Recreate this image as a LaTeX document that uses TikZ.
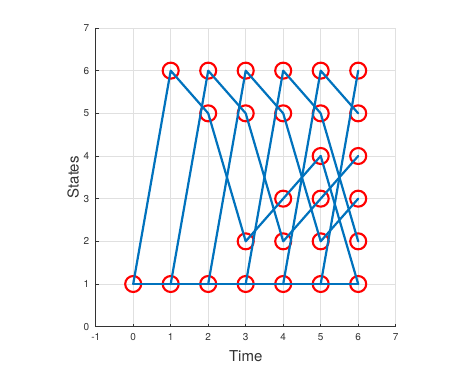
\documentclass[tikz,border=0pt]{standalone}
\usepackage{fontspec}
\setmainfont{TeX Gyre Heros}
\usepackage{tikz}
\usetikzlibrary{backgrounds}
\definecolor{lineblue}{RGB}{0,114,189}
\colorlet{gridgray}{black!12}
\colorlet{axisgray}{black!80}

\begin{document}
\begin{tikzpicture}[x=37.5pt,y=42.67pt,
	state/.style={circle,draw=red,line width=2.1pt,minimum size=16pt,inner sep=0pt},
	trace/.style={lineblue,line width=2.2pt,line join=round,line cap=round},
	ticklabel/.style={axisgray,font=\fontsize{10}{12}\selectfont}]
	\useasboundingbox (-3.552,-0.944) rectangle (9.088,7.656);
	% markers
	\foreach \t/\s in {0/1,1/1,2/1,3/1,4/1,5/1,6/1,1/6,2/6,3/6,4/6,5/6,6/6,2/5,3/5,4/5,5/5,6/5,
		5/4,6/4,4/3,5/3,6/3,3/2,4/2,5/2,6/2}
		\node[state] (c\t\s) at (\t,\s) {};
	\begin{scope}[on background layer]
		% grid and axes
		\foreach \i in {0,...,7}
			\draw[gridgray,line width=0.6pt] (\i,0) -- (\i,7);
		\foreach \j in {1,...,7}
			\draw[gridgray,line width=0.6pt] (-1,\j) -- (7,\j);
		\draw[axisgray,line width=0.8pt] (-1,7) -- (-1,0) -- (7,0);
		\foreach \i in {-1,...,7} {
			\draw[axisgray,line width=0.8pt] (\i,0) -- ++(0,3pt);
			\node[ticklabel] at (\i,0) [below=3pt] {\i};
		}
		\foreach \j in {0,...,7} {
			\draw[axisgray,line width=0.8pt] (-1,\j) -- ++(3pt,0);
			\node[ticklabel] at (-1,\j) [left=3pt] {\j};
		}
	\end{scope}
	% paths through the states
	\draw[trace] (c01.center) -- (c61.center);
	\draw[trace] (c01.center) -- (c16.center) -- (c25.center) -- (c32.center) -- (c43.center) -- (c54.center) -- (c61.center);
	\draw[trace] (c11.center) -- (c26.center) -- (c35.center) -- (c42.center) -- (c53.center) -- (c64.center);
	\draw[trace] (c21.center) -- (c36.center) -- (c45.center) -- (c52.center) -- (c63.center);
	\draw[trace] (c31.center) -- (c46.center) -- (c55.center) -- (c62.center);
	\draw[trace] (c41.center) -- (c56.center) -- (c65.center);
	\draw[trace] (c51.center) -- (c66.center);
	\node[axisgray,font=\fontsize{15}{18}\selectfont] (xlab) at (3,-0.7) {Time};
	\node[axisgray,font=\fontsize{15}{18}\selectfont,rotate=90] (ylab) at (-1.6,3.5) {States};
\end{tikzpicture}
\end{document}
